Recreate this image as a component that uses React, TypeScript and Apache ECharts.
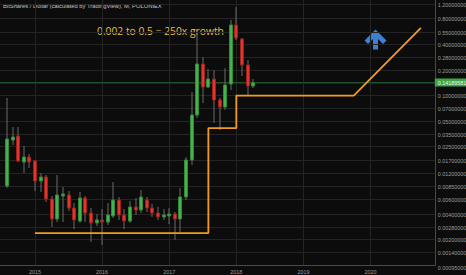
import React, { useEffect, useRef } from 'react';
import * as echarts from 'echarts';

// Monthly categories of the time axis (2014-07 … 2020-12)
const categories: string[] = [];
for (let y = 2014; y <= 2020; y++) {
  for (let m = 1; m <= 12; m++) {
    if (y === 2014 && m < 7) continue;
    categories.push(`${y}-${String(m).padStart(2, '0')}`);
  }
}

// Candles: 2014-08 … 2018-04
const candleMonths = categories.slice(1, 46);
const opens = [0.00861, 0.03, 0.0334, 0.01652, 0.0189, 0.01697, 0.00987, 0.01099, 0.00605, 0.00352, 0.00657, 0.00675, 0.00474, 0.00333, 0.00622, 0.00414, 0.00316, 0.00343, 0.00324, 0.00382, 0.00589, 0.00392, 0.00333, 0.00487, 0.00449, 0.00589, 0.00474, 0.00414, 0.00372, 0.00382, 0.00403, 0.00352, 0.00639, 0.01744, 0.0591, 0.2357, 0.1263, 0.1568, 0.0887, 0.0734, 0.1369, 0.679, 0.464, 0.2294, 0.1297];
const closes = [0.0308, 0.0325, 0.01697, 0.0189, 0.01652, 0.00987, 0.01099, 0.00605, 0.00352, 0.00675, 0.00693, 0.00474, 0.00343, 0.00622, 0.00414, 0.00316, 0.00343, 0.00324, 0.00392, 0.00589, 0.00392, 0.00333, 0.00487, 0.00449, 0.00639, 0.00474, 0.00414, 0.00372, 0.00392, 0.00403, 0.00352, 0.00639, 0.01744, 0.0591, 0.2357, 0.1263, 0.1568, 0.0887, 0.0734, 0.1334, 0.679, 0.477, 0.2294, 0.1297, 0.14189581];
const highs = [0.0937, 0.0427, 0.0427, 0.0255, 0.0205, 0.01744, 0.01226, 0.01161, 0.00657, 0.01161, 0.00838, 0.00752, 0.00543, 0.00732, 0.00657, 0.00474, 0.00403, 0.00461, 0.00543, 0.0096, 0.00639, 0.00461, 0.00573, 0.00622, 0.00773, 0.00639, 0.00528, 0.00487, 0.00461, 0.00474, 0.00425, 0.00816, 0.0189, 0.1103, 0.546, 0.2849, 0.2057, 0.2002, 0.0937, 0.2114, 0.777, 1.105, 0.477, 0.2626, 0.1568];
const lows = [0.00816, 0.0262, 0.01652, 0.01226, 0.01404, 0.00752, 0.00732, 0.00558, 0.00283, 0.00324, 0.00324, 0.00437, 0.00268, 0.00316, 0.00324, 0.00189, 0.00291, 0.00174, 0.00299, 0.00362, 0.00343, 0.00268, 0.00316, 0.00392, 0.00414, 0.00425, 0.00372, 0.00343, 0.00343, 0.00307, 0.002, 0.00247, 0.00589, 0.01523, 0.0545, 0.0818, 0.1229, 0.0476, 0.0393, 0.0677, 0.1164, 0.452, 0.1702, 0.1016, 0.1229];

// Price-scale ticks
const yTicks = [1.2, 0.8, 0.55, 0.4, 0.28, 0.2, 0.14, 0.1, 0.07, 0.05, 0.035, 0.025, 0.017, 0.012, 0.0085, 0.006, 0.004, 0.0028, 0.002, 0.0014, 0.00095];
const yearTicks = ['2015', '2016', '2017', '2018', '2019', '2020'];
const lastPrice = 0.14189581;

// Drawn support / projection line
const supportMonths = ['2015-01', '2017-08', '2017-08', '2018-01', '2018-01', '2019-10', '2020-10'];
const supportValues = [0.0024, 0.0024, 0.0415, 0.0415, 0.1, 0.1, 0.63];

const titleText = 'BitShares / Dollar (calculated by TradingView), M, POLONIEX';
const noteText = '0.002 to 0.5 = 250x growth';

const GRID_COLOR = '#242424';
const LABEL_COLOR = '#9c9c9c';
const LABEL_FONT = 'Liberation Sans';
const LABEL_SIZE = 5.4;

export default function App() {
  const ref = useRef<HTMLDivElement>(null);
  useEffect(() => {
    if (!ref.current) return;
    const chart = echarts.init(ref.current, undefined, { renderer: 'svg' });
    const candleData = candleMonths.map((m, i) => [categories.indexOf(m), opens[i], closes[i], lows[i], highs[i]]);
    chart.setOption({
      animation: false,
      backgroundColor: '#0c0c0c',
      grid: { left: -1.35, right: 31.15, top: 0, bottom: 10, containLabel: false, outerBoundsMode: 'none' },
      xAxis: {
        type: 'category',
        data: categories,
        boundaryGap: true,
        axisLine: { show: true, lineStyle: { color: '#4a4a4a', width: 1 } },
        axisTick: { show: false },
        splitLine: { show: false },
        axisLabel: {
          interval: (i: number, v: string) => v.endsWith('-01'),
          formatter: (v: string) => v.slice(0, 4),
          color: LABEL_COLOR,
          fontSize: LABEL_SIZE,
          fontFamily: LABEL_FONT,
          margin: 4,
        },
      },
      yAxis: {
        type: 'log',
        logBase: 10,
        position: 'right',
        min: 0.00101,
        max: 1.338,
        axisLine: { show: true, lineStyle: { color: '#4a4a4a', width: 1 } },
        axisTick: { show: false },
        axisLabel: { show: false },
        splitLine: { show: false },
      },
      graphic: [
        { type: 'text', x: 3, y: 6, style: { text: titleText, fill: '#c4c4c4', fontSize: 5.8, fontFamily: 'Liberation Sans', verticalAlign: 'middle' } },
        { type: 'text', x: 97, y: 31, style: { text: noteText, fill: '#e6bd45', fontSize: 10.3, fontFamily: 'Open Sans', verticalAlign: 'middle' } },
        {
          type: 'polygon',
          shape: {
            points: [
              [375.5, 29.5], [386.5, 40.5], [383, 44], [378, 39], [378, 49.5],
              [373, 49.5], [373, 39], [368, 44], [364.5, 40.5],
            ],
          },
          style: { fill: '#3d7fd1' },
        },
      ],
      series: [
        // horizontal price grid lines + price labels
        {
          type: 'custom',
          z: 1,
          silent: true,
          clip: false,
          data: yTicks.map((v) => [0, v]),
          encode: { x: 0, y: 1 },
          renderItem: (params: any, api: any) => {
            const v = api.value(1);
            const cs = params.coordSys;
            const y = Math.floor(api.coord([0, v])[1]) + 0.5;
            const children: any[] = [];
            if (y < cs.y + cs.height) {
              children.push({ type: 'line', shape: { x1: cs.x, y1: y, x2: cs.x + cs.width, y2: y }, style: { stroke: GRID_COLOR, lineWidth: 1 } });
            }
            if (Math.abs(v - 0.14) > 1e-9) {
              children.push({
                type: 'text', x: cs.x + cs.width + 3, y,
                style: { text: Number(v).toFixed(8), fill: LABEL_COLOR, fontSize: LABEL_SIZE, fontFamily: LABEL_FONT, verticalAlign: 'middle' },
              });
            }
            return { type: 'group', children };
          },
        },
        // vertical year grid lines
        {
          type: 'custom',
          z: 1,
          silent: true,
          data: yearTicks.map((y) => [categories.indexOf(`${y}-01`), 0.01]),
          encode: { x: 0, y: 1 },
          renderItem: (params: any, api: any) => {
            const cs = params.coordSys;
            const x = Math.floor(api.coord([api.value(0), 0.01])[0]) + 0.5;
            return { type: 'line', shape: { x1: x, y1: cs.y, x2: x, y2: cs.y + cs.height }, style: { stroke: GRID_COLOR, lineWidth: 1 } };
          },
        },
        // last price line + label
        {
          type: 'custom',
          z: 2,
          silent: true,
          clip: false,
          data: [[0, lastPrice]],
          encode: { x: 0, y: 1 },
          renderItem: (params: any, api: any) => {
            const cs = params.coordSys;
            const y = Math.floor(api.coord([0, api.value(1)])[1]) + 0.5;
            const right = cs.x + cs.width;
            return {
              type: 'group',
              children: [
                { type: 'line', shape: { x1: cs.x, y1: y, x2: right, y2: y }, style: { stroke: '#21502a', lineWidth: 1 } },
                { type: 'rect', shape: { x: right, y: y - 4, width: 466 - right, height: 8 }, style: { fill: '#3ea649' } },
                {
                  type: 'text', x: right + 3, y,
                  style: { text: Number(api.value(1)).toFixed(8), fill: '#eef7ee', fontSize: LABEL_SIZE, fontFamily: LABEL_FONT, verticalAlign: 'middle' },
                },
              ],
            };
          },
        },
        // candles
        {
          type: 'custom',
          z: 3,
          data: candleData,
          encode: { x: 0, y: [1, 2, 3, 4] },
          renderItem: (params: any, api: any) => {
            const idx = api.value(0);
            const o = api.value(1);
            const c = api.value(2);
            const l = api.value(3);
            const h = api.value(4);
            const pO = api.coord([idx, o]);
            const pC = api.coord([idx, c]);
            const pL = api.coord([idx, l]);
            const pH = api.coord([idx, h]);
            const band = api.coord([idx + 1, c])[0] - pC[0];
            const w = Math.max(3, Math.round(band * 0.7));
            const x = Math.round(pC[0] - w / 2);
            const top = Math.min(pO[1], pC[1]);
            const bottom = Math.max(pO[1], pC[1]);
            const up = c >= o;
            return {
              type: 'group',
              children: [
                { type: 'line', shape: { x1: x + w / 2, y1: pH[1], x2: x + w / 2, y2: pL[1] }, style: { stroke: '#6a6a6a', lineWidth: 1 } },
                {
                  type: 'rect',
                  shape: { x: x + 0.5, y: top, width: w - 1, height: Math.max(1, bottom - top) },
                  style: { fill: up ? '#47b24d' : '#e1352d', stroke: up ? '#2f8a35' : '#9c211b', lineWidth: 1 },
                },
              ],
            };
          },
        },
        // drawn support / projection line
        {
          type: 'line',
          z: 4,
          data: supportMonths.map((m, i) => [m, supportValues[i]]),
          showSymbol: false,
          symbol: 'none',
          silent: true,
          lineStyle: { color: '#f39b1a', width: 1.8 },
        },
      ],
    });
    return () => chart.dispose();
  }, []);
  return <div ref={ref} style={{ position: 'fixed', left: 0, top: 0, width: 466, height: 275 }} />;
}
